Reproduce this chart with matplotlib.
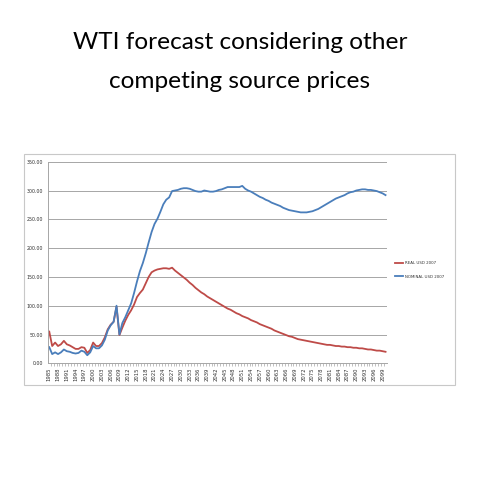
import matplotlib
matplotlib.use("Agg")
import matplotlib.pyplot as plt
from matplotlib.patches import Rectangle
from matplotlib.ticker import MultipleLocator, FixedLocator, FuncFormatter

years = list(range(1985, 2101))

real_usd_2007 = [
    55, 30, 36, 30, 33, 39, 33, 31, 28, 25,   # 1985-1994
    25, 28, 27, 18, 23, 36, 30, 30, 35, 45,   # 1995-2004
    59, 67, 72, 98, 49, 62, 74, 84, 92, 102,  # 2005-2014
    115, 122, 128, 139, 150, 158, 161, 163, 164, 165,  # 2015-2024
    165, 164, 166, 161, 157, 153, 149, 145, 140, 136,  # 2025-2034
    131, 127, 123, 120, 116, 113, 110, 107, 104, 101,  # 2035-2044
    98, 95, 93, 90, 87, 85, 82, 80, 78, 75,    # 2045-2054
    73, 71, 68, 66, 64, 62, 60, 57, 55, 53,    # 2055-2064
    51, 49, 47, 46, 44, 42, 41, 40, 39, 38,    # 2065-2074
    37, 36, 35, 34, 33, 32, 32, 31, 30, 30,    # 2075-2084
    29, 29, 28, 28, 27, 27, 26, 26, 25, 24,    # 2085-2094
    24, 23, 22, 22, 21, 20,                    # 2095-2100
]

nominal_usd_2007 = [
    28, 16, 19, 16, 19, 24, 21, 20, 18, 17,   # 1985-1994
    18, 22, 20, 14, 19, 30, 26, 26, 31, 41,   # 1995-2004
    57, 66, 72, 100, 50, 70, 80, 92, 104, 122,  # 2005-2014
    142, 160, 174, 191, 210, 228, 242, 251, 263, 276,  # 2015-2024
    284, 288, 299, 300, 301, 303, 304, 304, 303, 301,  # 2025-2034
    299, 298, 298, 300, 299, 298, 298, 299, 301, 302,  # 2035-2044
    304, 306, 306, 306, 306, 306, 308, 303, 300, 298,  # 2045-2054
    295, 292, 289, 287, 284, 282, 279, 277, 275, 273,  # 2055-2064
    270, 268, 266, 265, 264, 263, 262, 262, 262, 263,  # 2065-2074
    264, 266, 268, 271, 274, 277, 280, 283, 286, 288,  # 2075-2084
    290, 292, 295, 297, 298, 300, 301, 302, 302, 301,  # 2085-2094
    301, 300, 299, 297, 295, 292,                      # 2095-2100
]

series_names = ["REAL USD 2007", "NOMINAL USD 2007"]
title_lines = ["WTI forecast considering other", "competing source prices"]

W, H = 480, 480
fig = plt.figure(figsize=(W / 100, H / 100), dpi=100)
fig.patch.set_facecolor("white")

def fx(px):
    return px / W

def fy(py):
    return 1 - py / H

small_font = dict(family="DejaVu Sans", stretch="condensed")

# Title (two lines, baselines placed individually)
for line, base in zip(title_lines, [49.3, 88.3]):
    fig.text(0.5, fy(base), line, ha="center", va="baseline",
             fontsize=17.6, family=["Lato", "DejaVu Sans"], color="black")

# Chart frame
fig.patches.append(Rectangle((fx(24), fy(385)), fx(455) - fx(24), fy(154) - fy(385),
                             transform=fig.transFigure, fill=False,
                             edgecolor="#C8C8C8", lw=0.8))

ax = fig.add_axes([fx(47.8), fy(363.3), fx(387) - fx(47.8), fy(161.7) - fy(363.3)])
ax.plot(years, real_usd_2007, color="#BE4B48", lw=1.3, label=series_names[0])
ax.plot(years, nominal_usd_2007, color="#4A7EBB", lw=1.3, label=series_names[1])

ax.set_xlim(years[0] - 0.5, years[-1] + 0.5)
ax.set_ylim(0, 350)
ax.yaxis.set_major_locator(MultipleLocator(50))
ax.yaxis.set_major_formatter(FuncFormatter(lambda v, p: f"{v:.2f}"))
ax.grid(axis="y", color="#A6A6A6", lw=0.7)
ax.set_axisbelow(True)

label_years = years[::3]
ax.xaxis.set_major_locator(FixedLocator(label_years))
ax.set_xticklabels([str(y) for y in label_years], rotation=90)
ax.xaxis.set_minor_locator(FixedLocator([y + 0.5 for y in years[:-1]]))
ax.tick_params(axis="x", which="major", length=0, labelsize=4.2, pad=3, colors="#303030")
ax.tick_params(axis="x", which="minor", length=2, color="#A6A6A6", width=0.5)
ax.tick_params(axis="y", length=0, labelsize=3.8, pad=3.6, colors="#303030")
for lab in ax.get_xticklabels() + ax.get_yticklabels():
    lab.set_family(small_font["family"])
    lab.set_fontstretch(small_font["stretch"])

for s in ["top", "right"]:
    ax.spines[s].set_visible(False)
ax.spines["left"].set_color("#A6A6A6")
ax.spines["bottom"].set_color("#A6A6A6")
ax.spines["left"].set_linewidth(0.7)
ax.spines["bottom"].set_linewidth(0.7)

leg = fig.legend(loc="upper left", bbox_to_anchor=(fx(394.5), fy(261)),
                 bbox_transform=fig.transFigure, frameon=False,
                 prop={"family": small_font["family"], "stretch": small_font["stretch"], "size": 3.2},
                 handlelength=2.0, handletextpad=0.4,
                 labelspacing=2.2, borderaxespad=0, borderpad=0)
for t in leg.get_texts():
    t.set_color("#303030")

fig.savefig("out.png", dpi=100, facecolor="white")
